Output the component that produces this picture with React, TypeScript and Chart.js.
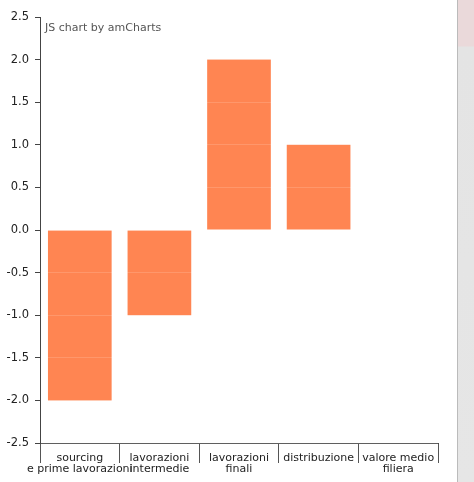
import React, { useEffect, useRef } from "react";
import Chart from "chart.js/auto";

const categories: string[][] = [
  ["sourcing", "e prime lavorazioni"],
  ["lavorazioni", "intermedie"],
  ["lavorazioni", "finali"],
  ["distribuzione"],
  ["valore medio", "filiera"],
];
const values: number[] = [-2, -1, 2, 1, 0];
const yMin = -2.5;
const yMax = 2.5;

// testo "JS chart by amCharts" in alto a sinistra dell'area del grafico
const creditPlugin = {
  id: "credit",
  afterDraw(chart: Chart) {
    const { ctx, chartArea } = chart;
    ctx.save();
    ctx.font = "11px 'DejaVu Sans', Verdana, sans-serif";
    ctx.fillStyle = "#555";
    ctx.textBaseline = "middle";
    ctx.fillText("JS chart by amCharts", chartArea.left + 5, chartArea.top + 11);
    ctx.restore();
  },
};

const BarChart: React.FC = () => {
  const chartRef = useRef<HTMLCanvasElement>(null);
  const chartInstance = useRef<Chart | null>(null);

  useEffect(() => {
    const ctx = chartRef.current?.getContext("2d");
    if (!ctx) return;
    if (chartInstance.current) chartInstance.current.destroy();

    chartInstance.current = new Chart(ctx, {
      type: "bar",
      data: {
        labels: categories,
        datasets: [
          {
            data: values,
            backgroundColor: "#FF8552",
            borderWidth: 0,
            barPercentage: 0.8,
            categoryPercentage: 1,
          },
        ],
      },
      options: {
        animation: false,
        responsive: false,
        layout: { padding: { top: 17, right: 36, left: 0, bottom: 0 } },
        plugins: { legend: { display: false }, tooltip: { enabled: false } },
        scales: {
          x: {
            offset: true,
            grid: {
              offset: true,
              drawOnChartArea: false,
              drawTicks: true,
              tickLength: 20,
              color: "#555",
              lineWidth: 1,
            },
            border: { display: true, color: "#444", width: 1 },
            ticks: {
              color: "#222",
              padding: -11,
              maxRotation: 0,
              autoSkip: false,
              font: { family: "'DejaVu Sans', Verdana, sans-serif", size: 11, lineHeight: 1.05 },
            },
            afterFit: (scale: any) => {
              scale.height = 39;
            },
          },
          y: {
            min: yMin,
            max: yMax,
            ticks: {
              stepSize: 0.5,
              color: "#222",
              padding: 6,
              font: { family: "'DejaVu Sans', Verdana, sans-serif", size: 11.5 },
              callback: (v: any) => Number(v).toFixed(1),
            },
            grid: {
              z: 1,
              color: "rgba(255,255,255,0.15)",
              tickColor: "#444",
              tickLength: 5,
              drawTicks: true,
            },
            border: { display: true, color: "#444", width: 1, z: 2 },
            afterFit: (scale: any) => {
              scale.width = 40;
            },
          },
        },
      },
      plugins: [creditPlugin],
    });

    return () => {
      if (chartInstance.current) {
        chartInstance.current.destroy();
        chartInstance.current = null;
      }
    };
  }, []);

  return <canvas ref={chartRef} width={474} height={482} />;
};

export default function App() {
  return (
    <div style={{ position: "fixed", left: 0, top: 0, width: 474, height: 482, background: "#fff", overflow: "hidden" }}>
      <div
        style={{
          position: "absolute",
          left: 457,
          top: 0,
          width: 17,
          height: 482,
          borderLeft: "1px solid #bbb",
          background: "linear-gradient(to bottom, #ead9da 0px, #ead9da 46px, #e4e4e4 47px, #e6e6e6 100%)",
        }}
      />
      <div style={{ position: "absolute", left: 0, top: 0 }}>
        <BarChart />
      </div>
    </div>
  );
}
